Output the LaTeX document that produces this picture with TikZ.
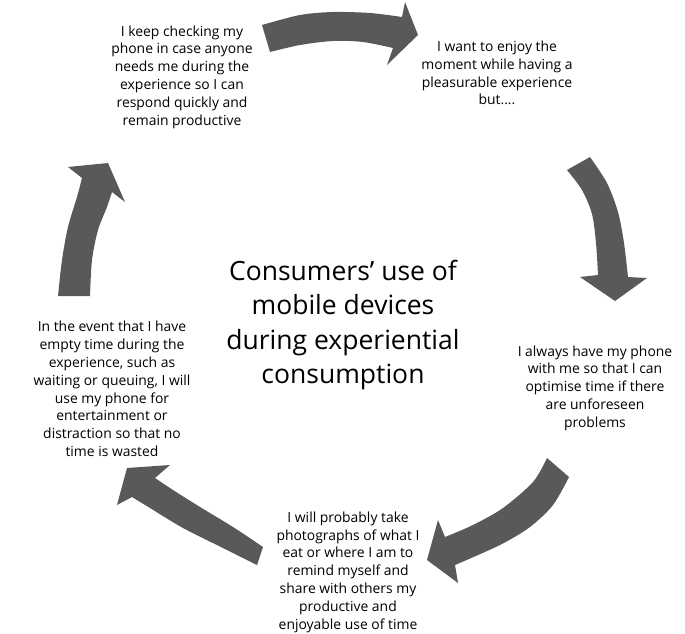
\documentclass[tikz,border=0pt]{standalone}
\usepackage{fontspec}
\setmainfont{Open Sans}
\begin{document}
\begin{tikzpicture}[x=1pt,y=-1pt,
  arrowshape/.style={fill=arrowgray,draw=none},
  smalltext/.style={align=center,inner sep=0pt,font=\fontsize{13.9}{17.8}\selectfont},
  bigtext/.style={align=center,inner sep=0pt,font=\fontsize{26.5}{34.5}\selectfont}]
\definecolor{arrowgray}{HTML}{595959}
\useasboundingbox (0,0) rectangle (685,634);
% arrow 1 (top)
\fill[arrowshape] (270,52) -- (262,25)
  -- plot[smooth] coordinates {(262,25) (300,15) (333,12) (370,13) (402,17)}
  -- (405,2) -- (418,35) -- (387,65) -- (393,48)
  -- plot[smooth] coordinates {(393,48) (363,42) (333,41) (300,45) (270,52)} -- cycle;
% arrow 2 (right)
\fill[arrowshape] (567,170) -- (590,157)
  -- plot[smooth] coordinates {(590,157) (607,183) (618,212) (624,243) (628,277)}
  -- (647,278) -- (615,301) -- (580,277) -- (598,275)
  -- plot[smooth] coordinates {(598,275) (596,243) (592,214) (582,190) (567,170)} -- cycle;
% arrow 3 (bottom right)
\fill[arrowshape] (547,458) -- (569,477)
  -- plot[smooth] coordinates {(569,477) (553,505) (530,527) (500,545) (455,565)}
  -- (458,583) -- (427,560) -- (438,520) -- (445,537)
  -- plot[smooth] coordinates {(445,537) (473,525) (503,508) (533,482) (547,458)} -- cycle;
% arrow 4 (bottom left)
\fill[arrowshape] (263,547) -- (257,565)
  -- plot[smooth] coordinates {(257,565) (227,550) (183,528) (150,508) (132,497)}
  -- (117,505) -- (127,468) -- (170,465) -- (155,478)
  -- plot[smooth] coordinates {(155,478) (173,490) (200,507) (233,527) (263,547)} -- cycle;
% arrow 5 (left)
\fill[arrowshape] (90,296) -- (58,296)
  -- plot[smooth] coordinates {(58,296) (62,260) (68,227) (77,197) (82,178)}
  -- (68,167) -- (108,163) -- (125,202) -- (112,192)
  -- plot[smooth] coordinates {(112,192) (107,207) (98,230) (92,260) (90,296)} -- cycle;
% texts
\node[smalltext] (t1) at (182,77) {I keep checking my\\phone in case anyone\\needs me during the\\experience so I can\\respond quickly and\\remain productive};
\node[smalltext] (t2) at (497,73) {I want to enjoy the\\moment while having a\\pleasurable experience\\but....};
\node[smalltext] (t3) at (595,388) {I always have my phone\\with me so that I can\\optimise time if there\\are unforeseen\\problems};
\node[smalltext] (t4) at (348,572) {I will probably take\\photographs of what I\\eat or where I am to\\remind myself and\\share with others my\\productive and\\enjoyable use of time};
\node[smalltext] (t5) at (112,389) {In the event that I have\\empty time during the\\experience, such as\\waiting or queuing, I will\\use my phone for\\entertainment or\\distraction so that no\\time is wasted};
\node[bigtext] (c) at (343,325) {Consumers’ use of\\mobile devices\\during experiential\\consumption};
\end{tikzpicture}
\end{document}
